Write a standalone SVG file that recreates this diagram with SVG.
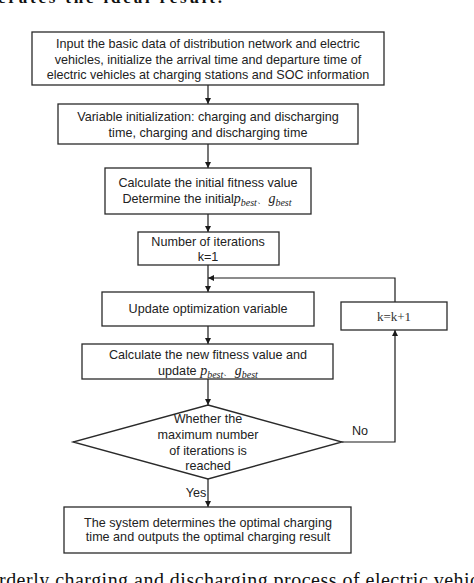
<svg xmlns="http://www.w3.org/2000/svg" width="474" height="583" viewBox="0 0 474 583">
<defs>
<marker id="ah" viewBox="0 0 10 10" refX="10" refY="5" markerWidth="6" markerHeight="6" markerUnits="userSpaceOnUse" orient="auto">
<path d="M0,0 L10,5 L0,10 z" fill="#1a1a1a"/>
</marker>
<style>
.box{fill:#fff;stroke:#2a2a2a;stroke-width:1.3}
.t{font-family:"Liberation Sans",Arial,sans-serif;font-size:12.6px;fill:#222;text-anchor:middle}
.m{font-family:"Liberation Serif","Times New Roman",serif;font-style:italic;font-size:14px}
.s{font-size:10px;baseline-shift:-3px}
.c{fill:none;stroke:#1a1a1a;stroke-width:1.2}
.cap{font-family:"Liberation Serif","Times New Roman",serif;fill:#111}
</style>
</defs>
<rect width="474" height="583" fill="#fff"/>
<text class="cap" x="-2" y="3" font-size="17" font-weight="bold" textLength="224">erates the ideal result.</text>
<text class="cap" x="-1" y="587" font-size="20" textLength="480">rderly charging and discharging process of electric vehic</text>

<g id="connectors">
<path class="c" d="M208,85 V104" marker-end="url(#ah)"/>
<path class="c" d="M208,144 V168" marker-end="url(#ah)"/>
<path class="c" d="M208,214 V232" marker-end="url(#ah)"/>
<path class="c" d="M208,265 V292" marker-end="url(#ah)"/>
<path class="c" d="M395,302 V278 H208" marker-end="url(#ah)"/>
<path class="c" d="M208,326 V344" marker-end="url(#ah)"/>
<path class="c" d="M208,379 V405" marker-end="url(#ah)"/>
<path class="c" d="M208,479 V507" marker-end="url(#ah)"/>
<path class="c" d="M342,442 H395 V330" marker-end="url(#ah)"/>
<text class="t" x="196" y="497">Yes</text>
<text class="t" x="360" y="435">No</text>
</g>

<g id="n1">
<rect class="box" x="32" y="32" width="352" height="53"/>
<text class="t" x="208" y="48">Input the basic data of distribution network and electric</text>
<text class="t" x="208" y="64">vehicles, initialize the arrival time and departure time of</text>
<text class="t" x="208" y="79">electric vehicles at charging stations and SOC information</text>
</g>
<g id="n2">
<rect class="box" x="58" y="104" width="300" height="40"/>
<text class="t" x="208" y="121">Variable initialization: charging and discharging</text>
<text class="t" x="208" y="137">time, charging and discharging time</text>
</g>
<g id="n3">
<rect class="box" x="105" y="168" width="206" height="46"/>
<text class="t" x="208" y="187">Calculate the initial fitness value</text>
<text class="t" x="207" y="203">Determine the initial<tspan class="m">p<tspan class="s">best</tspan></tspan><tspan font-size="9">、 </tspan><tspan class="m">g<tspan class="s">best</tspan></tspan></text>
</g>
<g id="n4">
<rect class="box" x="138" y="232" width="141" height="33"/>
<text class="t" x="208" y="246">Number of iterations</text>
<text class="t" x="208" y="261">k=1</text>
</g>
<g id="n5">
<rect class="box" x="102" y="292" width="212" height="34"/>
<text class="t" x="208" y="313">Update optimization variable</text>
</g>
<g id="n6">
<rect class="box" x="341" y="302" width="106" height="28"/>
<text x="394" y="321" font-family="Liberation Serif,'Times New Roman',serif" font-size="13" fill="#333" text-anchor="middle">k=k+1</text>
</g>
<g id="n7">
<rect class="box" x="82" y="344" width="251" height="35"/>
<text class="t" x="208" y="359">Calculate the new fitness value and</text>
<text class="t" x="208" y="375">update <tspan class="m">p<tspan class="s">best</tspan></tspan><tspan font-size="9">、 </tspan><tspan class="m">g<tspan class="s">best</tspan></tspan></text>
</g>
<g id="n8">
<polygon class="box" points="208,405 342,442 208,479 73,442"/>
<text class="t" x="208" y="423">Whether the</text>
<text class="t" x="208" y="439">maximum number</text>
<text class="t" x="208" y="455">of iterations is</text>
<text class="t" x="208" y="470">reached</text>
</g>
<g id="n9">
<rect class="box" x="64" y="507" width="287" height="46"/>
<text class="t" x="208" y="527">The system determines the optimal charging</text>
<text class="t" x="208" y="541">time and outputs the optimal charging result</text>
</g>
</svg>
